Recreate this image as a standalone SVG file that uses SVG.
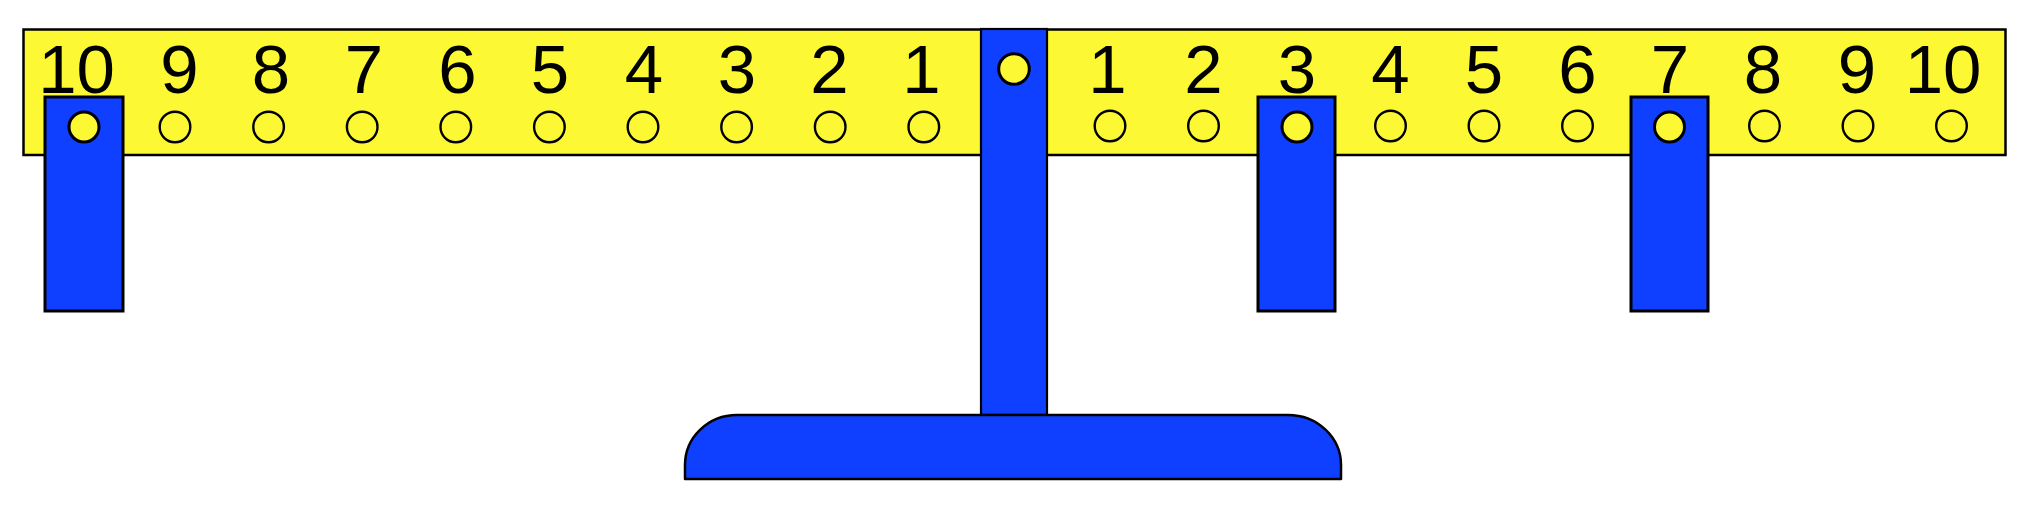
<svg xmlns="http://www.w3.org/2000/svg" width="2034" height="510" viewBox="0 0 2034 510">
<style>
.num{font-family:"Liberation Sans",Arial,Helvetica,sans-serif;font-size:69px;fill:#000;text-anchor:middle}
.hole{fill:none;stroke:#000;stroke-width:2.4}
.pin{fill:#FDF834;stroke:#000;stroke-width:3}
.blue{fill:#1040FF;stroke:#000;stroke-width:3}
</style>
<rect width="2034" height="510" fill="#fff"/>
<g id="beam">
<rect x="23.5" y="29.5" width="1982" height="125.5" fill="#FDF834" stroke="#000" stroke-width="2.5"/>
<g id="labels-left">
<text class="num" x="76.5" y="93">10</text>
<text class="num" x="179.5" y="93">9</text>
<text class="num" x="271" y="93">8</text>
<text class="num" x="364" y="93">7</text>
<text class="num" x="457.5" y="93">6</text>
<text class="num" x="550" y="93">5</text>
<text class="num" x="644" y="93">4</text>
<text class="num" x="737" y="93">3</text>
<text class="num" x="829.5" y="93">2</text>
<text class="num" x="921.5" y="93">1</text>
</g>
<g id="labels-right">
<text class="num" x="1107.5" y="93">1</text>
<text class="num" x="1203.5" y="93">2</text>
<text class="num" x="1297" y="93">3</text>
<text class="num" x="1390.5" y="93">4</text>
<text class="num" x="1484" y="93">5</text>
<text class="num" x="1577.5" y="93">6</text>
<text class="num" x="1670" y="93">7</text>
<text class="num" x="1763" y="93">8</text>
<text class="num" x="1857" y="93">9</text>
<text class="num" x="1943" y="93">10</text>
</g>
<g id="holes-left">
<circle class="hole" cx="175" cy="127" r="15.3"/>
<circle class="hole" cx="268.6" cy="127" r="15.3"/>
<circle class="hole" cx="362.2" cy="127" r="15.3"/>
<circle class="hole" cx="455.8" cy="127" r="15.3"/>
<circle class="hole" cx="549.4" cy="127" r="15.3"/>
<circle class="hole" cx="643" cy="127" r="15.3"/>
<circle class="hole" cx="736.6" cy="127" r="15.3"/>
<circle class="hole" cx="830.2" cy="127" r="15.3"/>
<circle class="hole" cx="923.8" cy="127" r="15.3"/>
</g>
<g id="holes-right">
<circle class="hole" cx="1110" cy="126" r="15.3"/>
<circle class="hole" cx="1203.5" cy="126" r="15.3"/>
<circle class="hole" cx="1390.5" cy="126" r="15.3"/>
<circle class="hole" cx="1484" cy="126" r="15.3"/>
<circle class="hole" cx="1577.5" cy="126" r="15.3"/>
<circle class="hole" cx="1764.5" cy="126" r="15.3"/>
<circle class="hole" cx="1858" cy="126" r="15.3"/>
<circle class="hole" cx="1951.5" cy="126" r="15.3"/>
</g>
</g>
<g id="post">
<rect x="981" y="29" width="66" height="386" fill="#1040FF" stroke="#000" stroke-width="2.2"/>
<circle class="pin" cx="1014" cy="69" r="15.3"/>
</g>
<g id="base">
<path d="M737 415 L1288 415 A53 50 0 0 1 1341 465 L1341 479 L685 479 L685 465 A52 50 0 0 1 737 415 Z" fill="#1040FF" stroke="#000" stroke-width="2.5" stroke-linejoin="round"/>
</g>
<g id="weight-left-10">
<rect class="blue" x="45" y="97" width="78" height="214"/>
<circle class="pin" cx="84" cy="127" r="15"/>
</g>
<g id="weight-right-3">
<rect class="blue" x="1258" y="97" width="77" height="214"/>
<circle class="pin" cx="1297" cy="127" r="15"/>
</g>
<g id="weight-right-7">
<rect class="blue" x="1631" y="97" width="77" height="214"/>
<circle class="pin" cx="1669.5" cy="127" r="15"/>
</g>
</svg>
